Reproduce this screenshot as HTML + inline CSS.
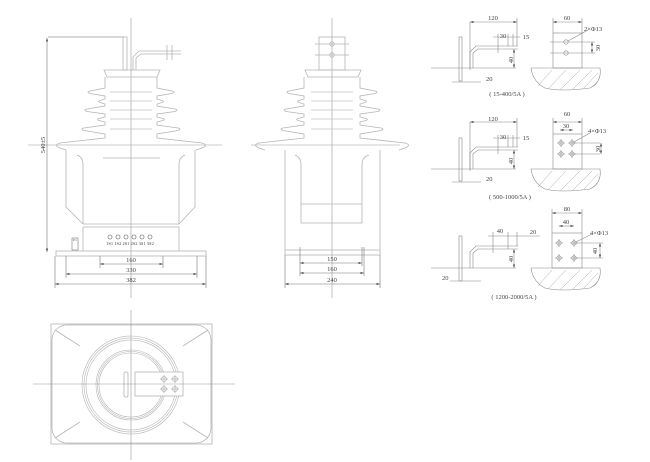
<!DOCTYPE html>
<html><head><meta charset="utf-8"><style>
html,body{margin:0;padding:0;background:#fff;}
svg{display:block;}
text{font-family:"Liberation Serif",serif;fill:#444;}
</style></head><body>
<svg width="650" height="462" viewBox="0 0 650 462" xmlns="http://www.w3.org/2000/svg">
<defs>
<marker id="a" viewBox="0 0 6 4" refX="6" refY="2" markerWidth="6" markerHeight="4" orient="auto-start-reverse"><path d="M0,0L6,2L0,4z" fill="#555"/></marker>
<g id="half">
<path d="M105,77 L105,88 L90,91 Q86,92 90,93.5 L105,96 L105,99 L100,100.5 Q97,101.5 100,102.5 L105,104 L105,106 L87,109 Q83,110 87,111.5 L105,114 L105,117 L99,118.5 Q96,119.5 99,120.5 L105,122 L105,125 L84,128 Q80,129 84,130.5 L105,134 L105,138 L60,143 Q53,145 60,148 L66,150" fill="none" stroke="#b5b5b5" stroke-width="0.8"/>
</g>
<g id="core" stroke="#c0c0c0" stroke-width="0.7">
<line x1="110" y1="92" x2="152" y2="92"/><line x1="110" y1="101" x2="152" y2="101"/>
<line x1="110" y1="110" x2="152" y2="110"/><line x1="110" y1="119" x2="152" y2="119"/>
<line x1="110" y1="129" x2="152" y2="129"/>
</g>
</defs>
<g fill="none" stroke="#b5b5b5" stroke-width="0.8">
<!-- FRONT VIEW -->
<line x1="131" y1="18" x2="131" y2="298" stroke="#999" stroke-width="0.6"/>
<line x1="28" y1="145" x2="222" y2="145" stroke="#999" stroke-width="0.6"/>
<line x1="48" y1="37" x2="124" y2="37" stroke="#999"/>
<line x1="47" y1="38" x2="47" y2="252" stroke="#777" stroke-width="0.6" marker-start="url(#a)" marker-end="url(#a)"/>
<rect x="123" y="37" width="4" height="33"/>
<path d="M133,70 L133,57 L139,51 L181,51 M136,70 L136,58 L141,54 L181,54 M167,45 L167,60 M172,45 L172,60"/>
<path d="M104,70 L160,70 L157,77 L107,77 Z"/>
<use href="#half"/>
<use href="#half" transform="translate(262,0) scale(-1,1)"/>
<use href="#core"/>
<path d="M66,150 L66,207 L83,224 L179,224 L195,207 L195,150"/>
<path d="M77,155 Q83,157 83,165 L83,224 M185,155 Q179,157 179,165 L179,224"/>
<line x1="103" y1="158" x2="160" y2="158"/>
<line x1="83" y1="227" x2="179" y2="227"/>
<line x1="83" y1="227" x2="83" y2="251"/><line x1="179" y1="227" x2="179" y2="251"/>
<rect x="56" y="251" width="150" height="5"/>
<g stroke="#777" stroke-width="0.6">
<rect x="72" y="238" width="6" height="12"/>
<line x1="100" y1="256" x2="100" y2="268"/><line x1="163" y1="256" x2="163" y2="268"/>
<line x1="66" y1="256" x2="66" y2="278"/><line x1="197" y1="256" x2="197" y2="278"/>
<line x1="55" y1="256" x2="55" y2="288"/><line x1="206" y1="256" x2="206" y2="288"/>
<line x1="100" y1="264" x2="163" y2="264" marker-start="url(#a)" marker-end="url(#a)"/>
<line x1="66" y1="274" x2="197" y2="274" marker-start="url(#a)" marker-end="url(#a)"/>
<line x1="55" y1="284" x2="206" y2="284" marker-start="url(#a)" marker-end="url(#a)"/>
</g>
<g stroke="#888"><circle cx="110" cy="237" r="2"/><circle cx="118" cy="237" r="2"/><circle cx="126" cy="237" r="2"/><circle cx="134" cy="237" r="2"/><circle cx="142" cy="237" r="2"/><circle cx="150" cy="237" r="2"/></g>

<!-- SIDE VIEW -->
<line x1="332" y1="18" x2="332" y2="298" stroke="#999" stroke-width="0.6"/>
<line x1="251" y1="145" x2="400" y2="145" stroke="#999" stroke-width="0.6"/>
<rect x="319" y="37" width="26" height="33"/>
<line x1="315" y1="44" x2="349" y2="44"/><line x1="315" y1="55" x2="349" y2="55"/>
<circle cx="332" cy="44" r="2.2"/><circle cx="332" cy="55" r="2.2"/>
<g transform="translate(201,0)">
<path d="M104,70 L160,70 L157,77 L107,77 Z"/>
<use href="#half" transform="translate(-2,0)"/>
<use href="#half" transform="translate(264,0) scale(-1,1)"/>
<use href="#core"/>
</g>
<path d="M285,150 L285,250 M380,150 L380,250"/>
<path d="M295,155 Q301,157 301,165 L301,223 L362,223 L362,165 Q362,157 369,155"/>
<line x1="301" y1="204" x2="362" y2="204"/>
<rect x="285" y="250" width="95" height="5"/>
<g stroke="#777" stroke-width="0.6">
<line x1="300" y1="247" x2="300" y2="276"/><line x1="362" y1="247" x2="362" y2="266"/><line x1="364" y1="247" x2="364" y2="276"/>
<line x1="285" y1="255" x2="285" y2="288"/><line x1="380" y1="255" x2="380" y2="288"/>
<line x1="300" y1="263" x2="362" y2="263" marker-start="url(#a)" marker-end="url(#a)"/>
<line x1="300" y1="273" x2="364" y2="273" marker-start="url(#a)" marker-end="url(#a)"/>
<line x1="285" y1="284" x2="380" y2="284" marker-start="url(#a)" marker-end="url(#a)"/>
</g>

<!-- PLAN VIEW -->
<rect x="51" y="324" width="161" height="120"/>
<rect x="52" y="325" width="159" height="118" rx="15"/>
<path d="M55,330 L80,346 M208,330 L183,346 M55,438 L80,422 M208,438 L183,422"/>
<g stroke-width="0.6">
<circle cx="131" cy="385" r="49"/><circle cx="131" cy="385" r="47"/><circle cx="131" cy="385" r="45"/>
<circle cx="131" cy="385" r="35"/><circle cx="131" cy="385" r="33.5"/><circle cx="131" cy="385" r="32"/>
</g>
<rect x="124" y="372" width="4" height="25" rx="1.5"/>
<rect x="135" y="372" width="48" height="24" fill="#fff"/>
<g><circle cx="164" cy="379" r="2.5"/><circle cx="175" cy="379" r="2.5"/><circle cx="164" cy="389" r="2.5"/><circle cx="175" cy="389" r="2.5"/>
<path d="M160,379h8M171,379h8M160,389h8M171,389h8M164,375v8M175,375v8M164,385v8M175,385v8"/></g>
<line x1="131" y1="310" x2="131" y2="460" stroke="#999" stroke-width="0.6"/>
<line x1="33" y1="384" x2="235" y2="384" stroke="#999" stroke-width="0.6"/>

<!-- DETAILS -->
<g stroke="#888" stroke-width="0.6">
<line x1="431" y1="68" x2="516" y2="68"/>
<rect x="459" y="37" width="3" height="44"/>
<path d="M470,68 L470,52 L476,46 L518,46 M473,68 L473,53 L478,49 L518,49"/>
<line x1="470" y1="22" x2="470" y2="70"/><line x1="517" y1="18" x2="517" y2="46"/>
<line x1="470" y1="22" x2="517" y2="22" marker-start="url(#a)" marker-end="url(#a)"/>
<line x1="498" y1="34" x2="498" y2="53"/><line x1="508" y1="34" x2="508" y2="46"/><line x1="513" y1="34" x2="513" y2="46"/>
<line x1="493" y1="37" x2="520" y2="37"/>
<line x1="514" y1="49" x2="514" y2="68" marker-start="url(#a)" marker-end="url(#a)"/>
<line x1="452" y1="82" x2="481" y2="82"/>
<rect x="553" y="33" width="29" height="35"/>
<line x1="553" y1="18" x2="553" y2="33"/><line x1="582" y1="18" x2="582" y2="33"/>
<line x1="553" y1="22" x2="582" y2="22" marker-start="url(#a)" marker-end="url(#a)"/>
<line x1="550" y1="42" x2="595" y2="42"/><line x1="550" y1="53" x2="595" y2="53"/>
<circle cx="566" cy="42" r="2.2"/><circle cx="566" cy="53" r="2.2"/>
<line x1="568" y1="41" x2="588" y2="30"/>
<line x1="592" y1="42" x2="592" y2="53" marker-start="url(#a)" marker-end="url(#a)"/>
<path d="M531,68 L600,68 Q602,82 590,88 Q560,92 545,88 Q533,82 531,68 Z"/>
<line x1="431" y1="169" x2="516" y2="169"/>
<rect x="459" y="138" width="3" height="43"/>
<path d="M470,169 L470,153 L476,147 L518,147 M473,169 L473,154 L478,150 L518,150"/>
<line x1="470" y1="122" x2="470" y2="171"/><line x1="517" y1="118" x2="517" y2="147"/>
<line x1="470" y1="122" x2="517" y2="122" marker-start="url(#a)" marker-end="url(#a)"/>
<line x1="498" y1="135" x2="498" y2="154"/><line x1="508" y1="135" x2="508" y2="147"/><line x1="513" y1="135" x2="513" y2="147"/>
<line x1="493" y1="138" x2="520" y2="138"/>
<line x1="514" y1="150" x2="514" y2="169" marker-start="url(#a)" marker-end="url(#a)"/>
<line x1="452" y1="182" x2="481" y2="182"/>
<rect x="553" y="134" width="29" height="35"/>
<line x1="553" y1="118" x2="553" y2="134"/><line x1="582" y1="118" x2="582" y2="134"/>
<line x1="553" y1="122" x2="582" y2="122" marker-start="url(#a)" marker-end="url(#a)"/>
<line x1="560" y1="130" x2="573" y2="130" marker-start="url(#a)" marker-end="url(#a)"/>
<g><circle cx="561" cy="143" r="2.2"/><circle cx="572" cy="143" r="2.2"/><circle cx="561" cy="154" r="2.2"/><circle cx="572" cy="154" r="2.2"/>
<path d="M557,143h8M568,143h8M557,154h8M568,154h8M561,139v8M572,139v8M561,150v8M572,150v8"/></g>
<line x1="572" y1="143" x2="600" y2="143"/><line x1="572" y1="154" x2="600" y2="154"/>
<line x1="574" y1="142" x2="590" y2="133"/>
<line x1="601" y1="143" x2="601" y2="154" marker-start="url(#a)" marker-end="url(#a)"/>
<path d="M531,169 L600,169 Q602,183 590,189 Q560,193 545,189 Q533,183 531,169 Z"/>
<line x1="431" y1="268" x2="516" y2="268"/>
<rect x="459" y="236" width="3" height="45"/>
<path d="M470,268 L470,252 L476,246 L518,246 M473,268 L473,253 L478,249 L518,249"/>
<line x1="493" y1="232" x2="493" y2="253"/><line x1="508" y1="232" x2="508" y2="249"/><line x1="517" y1="232" x2="517" y2="246"/>
<line x1="488" y1="236" x2="540" y2="236"/>
<line x1="514" y1="249" x2="514" y2="268" marker-start="url(#a)" marker-end="url(#a)"/>
<line x1="450" y1="281" x2="481" y2="281"/>
<rect x="552" y="233" width="30" height="35"/>
<line x1="552" y1="209" x2="552" y2="233"/><line x1="582" y1="209" x2="582" y2="233"/>
<line x1="552" y1="213" x2="582" y2="213" marker-start="url(#a)" marker-end="url(#a)"/>
<line x1="559" y1="226" x2="574" y2="226" marker-start="url(#a)" marker-end="url(#a)"/>
<g><circle cx="559" cy="243" r="2.2"/><circle cx="574" cy="243" r="2.2"/><circle cx="559" cy="258" r="2.2"/><circle cx="574" cy="258" r="2.2"/>
<path d="M555,243h8M570,243h8M555,258h8M570,258h8M559,239v8M574,239v8M559,254v8M574,254v8"/></g>
<line x1="574" y1="243" x2="603" y2="243"/><line x1="574" y1="258" x2="603" y2="258"/>
<line x1="576" y1="242" x2="592" y2="234"/>
<line x1="600" y1="243" x2="600" y2="258" marker-start="url(#a)" marker-end="url(#a)"/>
<path d="M531,268 L600,268 Q602,282 590,288 Q560,292 545,288 Q533,282 531,268 Z"/>
</g>
<g stroke="#aaa" stroke-width="0.5">
<path d="M538,86 L552,70 M548,89 L566,70 M560,90 L580,70 M572,90 L592,70 M584,88 L598,73"/>
<path d="M538,187 L552,171 M548,190 L566,171 M560,191 L580,171 M572,191 L592,171 M584,189 L598,174"/>
<path d="M538,286 L552,270 M548,289 L566,270 M560,290 L580,270 M572,290 L592,270 M584,288 L598,273"/>
</g>
</g>

<g font-size="6.5">
<text x="45" y="145" transform="rotate(-90 45 145)" text-anchor="middle">540±5</text>
<text x="131" y="262" text-anchor="middle">160</text>
<text x="131" y="272" text-anchor="middle">330</text>
<text x="131" y="282" text-anchor="middle">382</text>
<text x="332" y="261" text-anchor="middle">150</text>
<text x="332" y="271" text-anchor="middle">160</text>
<text x="332" y="282" text-anchor="middle">240</text>
<text x="130" y="245" text-anchor="middle" font-size="4.5" font-family="Liberation Sans, sans-serif">1S1 1S2 2S1 2S2 3S1 3S2</text>
<text x="75" y="241" text-anchor="middle" font-size="3.5">P1</text>
<text x="493" y="20" text-anchor="middle">120</text>
<text x="503" y="38" text-anchor="middle">30</text>
<text x="526" y="39" text-anchor="middle">15</text>
<text x="513" y="60" transform="rotate(-90 513 60)" text-anchor="middle">40</text>
<text x="486" y="81">20</text>
<text x="507" y="96" text-anchor="middle">( 15-400/5A )</text>
<text x="567" y="20" text-anchor="middle">60</text>
<text x="584" y="31">2×Φ13</text>
<text x="600" y="48" transform="rotate(-90 600 48)" text-anchor="middle">30</text>
<text x="493" y="121" text-anchor="middle">120</text>
<text x="503" y="139" text-anchor="middle">30</text>
<text x="526" y="140" text-anchor="middle">15</text>
<text x="513" y="161" transform="rotate(-90 513 161)" text-anchor="middle">40</text>
<text x="486" y="181">20</text>
<text x="510" y="199" text-anchor="middle">( 500-1000/5A )</text>
<text x="567" y="116" text-anchor="middle">60</text>
<text x="566" y="128" text-anchor="middle">30</text>
<text x="588" y="133">4×Φ13</text>
<text x="600" y="149" transform="rotate(-90 600 149)" text-anchor="middle">30</text>
<text x="500" y="233" text-anchor="middle">40</text>
<text x="533" y="234" text-anchor="middle">20</text>
<text x="513" y="259" transform="rotate(-90 513 259)" text-anchor="middle">40</text>
<text x="442" y="280">20</text>
<text x="514" y="299" text-anchor="middle">( 1200-2000/5A )</text>
<text x="567" y="211" text-anchor="middle">80</text>
<text x="566" y="224" text-anchor="middle">40</text>
<text x="590" y="235">4×Φ13</text>
<text x="597" y="251" transform="rotate(-90 597 251)" text-anchor="middle">40</text>
</g>
</svg>
</body></html>
